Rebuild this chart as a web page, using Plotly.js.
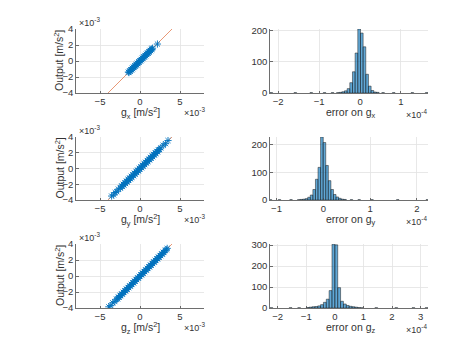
<!DOCTYPE html>
<html><head><meta charset="utf-8">
<script src="https://cdn.plot.ly/plotly-3.0.1.min.js"></script>
<style>html,body{margin:0;padding:0;background:#fff}#chart{width:474px;height:358px}</style>
</head><body><div id="chart"></div>
<script>
// ---- Scatter data (units of 1e-3 m/s^2) ----
const gxIn  = [-1.45,-1.38,-1.3,-1.22,-1.15,-1.05,-0.98,-0.9,-0.82,-0.75,-0.66,-0.58,-0.5,-0.42,-0.35,-0.26,-0.18,-0.1,-0.02,0.06,0.14,0.22,0.3,0.38,0.46,0.55,0.62,0.7,0.78,0.86,0.94,1.02,1.1,1.18,1.26,1.34,1.42,1.5,1.56,2.18];
const gxOut = [-1.38,-1.45,-1.22,-1.3,-1.08,-1.12,-0.9,-0.97,-0.76,-0.82,-0.6,-0.65,-0.44,-0.5,-0.28,-0.32,-0.1,-0.16,0.05,0.0,0.2,0.16,0.36,0.3,0.52,0.5,0.7,0.64,0.85,0.8,1.0,0.96,1.17,1.12,1.33,1.28,1.48,1.45,1.6,2.12];

const gyIn  = [-3.55,-3.3,-3.1,-2.9,-2.7,-2.45,-2.3,-2.2,-2.1,-2.0,-1.9,-1.8,-1.7,-1.6,-1.5,-1.4,-1.3,-1.2,-1.1,-1.0,-0.9,-0.8,-0.7,-0.6,-0.5,-0.4,-0.3,-0.2,-0.1,0,0.1,0.2,0.3,0.4,0.5,0.6,0.7,0.8,0.9,1.0,1.1,1.2,1.3,1.4,1.5,1.6,1.7,1.8,1.9,2.0,2.1,2.2,2.3,2.45,2.6,2.9,3.2,3.5];
const gyOut = [-3.5,-3.35,-3.05,-2.95,-2.62,-2.5,-2.2,-2.3,-2.0,-2.1,-1.78,-1.92,-1.6,-1.72,-1.38,-1.52,-1.2,-1.33,-0.98,-1.12,-0.8,-0.93,-0.58,-0.72,-0.38,-0.52,-0.2,-0.32,0.02,-0.12,0.22,0.08,0.42,0.28,0.62,0.48,0.8,0.68,1.02,0.88,1.2,1.08,1.42,1.28,1.6,1.48,1.8,1.7,2.0,1.9,2.18,2.1,2.38,2.4,2.62,2.95,3.15,3.55];

const gzIn  = [-3.9,-3.65,-3.4,-3.15,-2.95,-2.8,-2.7,-2.6,-2.5,-2.4,-2.3,-2.2,-2.1,-2.0,-1.9,-1.8,-1.7,-1.6,-1.5,-1.4,-1.3,-1.2,-1.1,-1.0,-0.9,-0.8,-0.7,-0.6,-0.5,-0.4,-0.3,-0.2,-0.1,0,0.1,0.2,0.3,0.4,0.5,0.6,0.7,0.8,0.9,1.0,1.1,1.2,1.3,1.4,1.5,1.6,1.7,1.8,1.9,2.0,2.1,2.2,2.3,2.4,2.5,2.6,2.7,2.8,2.9,3.0,3.15,3.3,3.4];
const gzOut = [-3.85,-3.7,-3.35,-3.2,-2.9,-2.86,-2.64,-2.66,-2.44,-2.46,-2.24,-2.27,-2.04,-2.07,-1.84,-1.87,-1.63,-1.67,-1.43,-1.47,-1.23,-1.27,-1.03,-1.07,-0.83,-0.87,-0.63,-0.67,-0.43,-0.47,-0.23,-0.27,-0.03,-0.07,0.17,0.13,0.37,0.33,0.57,0.53,0.77,0.73,0.97,0.93,1.17,1.13,1.37,1.33,1.57,1.53,1.77,1.73,1.97,1.93,2.17,2.13,2.37,2.33,2.57,2.53,2.77,2.73,2.97,2.93,3.2,3.28,3.45];

const idealLineX = [-8, 8];
const idealLineY = [-8, 8];

// ---- Histogram data (bin centres in units of 1e-4, counts) ----
const errXCenters = [-2.1675,-1.5825,-1.1925,-0.8675,-0.6725,-0.5425,-0.4775,-0.4125,-0.3475,-0.2825,-0.2175,-0.1525,-0.0875,-0.0225,0.0425,0.1075,0.1725,0.2375,0.3025,0.3675,0.4325,0.5625,0.8225,1.2775,1.6275];
const errXCounts  = [1,1,1,1,1,1,2,4,7,14,33,68,128,205,192,148,60,22,8,3,2,1,1,1,1];
const errXWidth = 0.065;

const errYCenters = [-1.1300,-0.9375,-0.6900,-0.5250,-0.4700,-0.4150,-0.3600,-0.3050,-0.2500,-0.1950,-0.1400,-0.0850,-0.0300,0.0250,0.0800,0.1350,0.1900,0.2450,0.3000,0.3550,0.4100,0.4650,0.6025,0.7675,1.0425,1.5925,2.2250];
const errYCounts  = [1,1,1,1,2,3,5,10,18,38,75,118,228,208,125,70,38,20,11,6,3,2,1,1,1,1,1];
const errYWidth = 0.055;

const errZCenters = [-2.22,-1.55,-1.25,-0.95,-0.85,-0.75,-0.65,-0.55,-0.45,-0.35,-0.25,-0.15,-0.05,0.05,0.15,0.25,0.35,0.45,0.55,0.65,0.75,0.85,0.95,1.45,2.15,2.75,3.21];
const errZCounts  = [1,1,1,2,4,6,7,10,16,27,42,83,304,301,97,32,19,12,8,6,4,2,1,1,1,1,1];
const errZWidth = 0.1;

const scatterLabels = ['g<sub>x</sub> [m/s<sup>2</sup>]','g<sub>y</sub> [m/s<sup>2</sup>]','g<sub>z</sub> [m/s<sup>2</sup>]'];
const histLabels = ['error on g<sub>x</sub>','error on g<sub>y</sub>','error on g<sub>z</sub>'];
const yLabel = 'Output [m/s<sup>2</sup>]';
const scatterTicks = [-5,0,5];
const scatterYTicks = [-4,-2,0,2,4];
const histXTicks = [[-2,-1,0,1],[-1,0,1,2],[-2,-1,0,1,2,3]];
const histYTicks = [[0,100,200],[0,100,200],[0,100,200,300]];
const histXRanges = [[-2.2,1.66],[-1.14,2.24],[-2.27,3.26]];
const histYMax = [205,228,305];

// ---- Layout geometry (pixels) ----
const W = 474, H = 358;
const rowsPx = [[29,93],[137,200],[244,308]];
const leftPx = [76,204], rightPx = [270,428];
const px = v => v / W, py = v => 1 - v / H;

const blue = '#0072BD', orange = '#D95319';
const axisCol = '#4a4a4a', gridCol = '#e2e2e2', txtCol = '#333333';
const fontFam = 'Liberation Sans, Arial, sans-serif';

const scatterSets = [[gxIn,gxOut],[gyIn,gyOut],[gzIn,gzOut]];
const histSets = [[errXCenters,errXCounts,errXWidth],[errYCenters,errYCounts,errYWidth],[errZCenters,errZCounts,errZWidth]];

const data = [];
const layout = {
  width: W, height: H, margin:{l:0,r:0,t:0,b:0},
  paper_bgcolor:'#fff', plot_bgcolor:'#fff', showlegend:false,
  font:{family:fontFam, size:10, color:txtCol},
  annotations: []
};

function baseAxis(extra){
  return Object.assign({
    showline:true, linecolor:axisCol, linewidth:0.8, mirror:false,
    ticks:'inside', ticklen:2.5, tickwidth:0.8, tickcolor:axisCol,
    showgrid:true, gridcolor:gridCol, gridwidth:0.8, zeroline:false,
    tickfont:{family:fontFam, size:9.5, color:txtCol}, fixedrange:true
  }, extra);
}

for (let r = 0; r < 3; r++) {
  const [T,B] = rowsPx[r];
  const li = 2*r+1, ri = 2*r+2;
  const lx = 'x'+(li===1?'':li), ly = 'y'+(li===1?'':li);
  const rx = 'x'+ri, ry = 'y'+ri;
  const lxa = 'xaxis'+(li===1?'':li), lya = 'yaxis'+(li===1?'':li);
  const rxa = 'xaxis'+ri, rya = 'yaxis'+ri;

  data.push({type:'scatter', mode:'lines', x:idealLineX, y:idealLineY, xaxis:lx, yaxis:ly,
             line:{color:orange, width:0.6}, hoverinfo:'skip'});
  data.push({type:'scatter', mode:'markers', x:scatterSets[r][0], y:scatterSets[r][1], xaxis:lx, yaxis:ly,
             marker:{symbol:'asterisk-open', size:6, color:blue, line:{color:blue, width:0.9}}, cliponaxis:true});
  const h = histSets[r];
  data.push({type:'bar', x:h[0], y:h[1], width:h[2], xaxis:rx, yaxis:ry,
             marker:{color:'rgba(0,114,189,0.62)', line:{color:'#1a1a1a', width:0.5}}});

  layout[lxa] = baseAxis({domain:[px(leftPx[0]),px(leftPx[1])], anchor:ly, range:[-8,8], tickvals:scatterTicks});
  layout[lya] = baseAxis({domain:[py(B),py(T)], anchor:lx, range:[-4,4], tickvals:scatterYTicks});
  layout[rxa] = baseAxis({domain:[px(rightPx[0]),px(rightPx[1])], anchor:ry, range:histXRanges[r], tickvals:histXTicks[r]});
  layout[rya] = baseAxis({domain:[py(B),py(T)], anchor:rx, range:[0,histYMax[r]], tickvals:histYTicks[r]});

  const A = layout.annotations;
  const ann = (text,x,y,xa,ya,extra) => A.push(Object.assign({text, x:px(x), y:py(y), xref:'paper', yref:'paper',
      xanchor:xa, yanchor:ya, showarrow:false, font:{family:fontFam, size:10, color:txtCol}}, extra||{}));
  ann('×10<sup>-3</sup>', leftPx[0]+1, T+1, 'left', 'bottom', {font:{family:fontFam,size:9,color:txtCol}});
  ann('×10<sup>-3</sup>', leftPx[1]+3, B+19, 'right', 'middle', {font:{family:fontFam,size:9,color:txtCol}});
  ann(scatterLabels[r], (leftPx[0]+leftPx[1])/2, B+20, 'center', 'middle', {font:{family:fontFam,size:10.5,color:txtCol}});
  ann(yLabel, 59, (T+B)/2, 'center', 'middle', {textangle:-90, font:{family:fontFam,size:10.5,color:txtCol}});
  ann(histLabels[r], 351, B+20, 'center', 'middle', {font:{family:fontFam,size:10.5,color:txtCol}});
  ann('×10<sup>-4</sup>', rightPx[1]+1, B+21, 'right', 'middle', {font:{family:fontFam,size:9,color:txtCol}});
}

Plotly.newPlot('chart', data, layout, {staticPlot:true, displayModeBar:false});
</script>
</body></html>
